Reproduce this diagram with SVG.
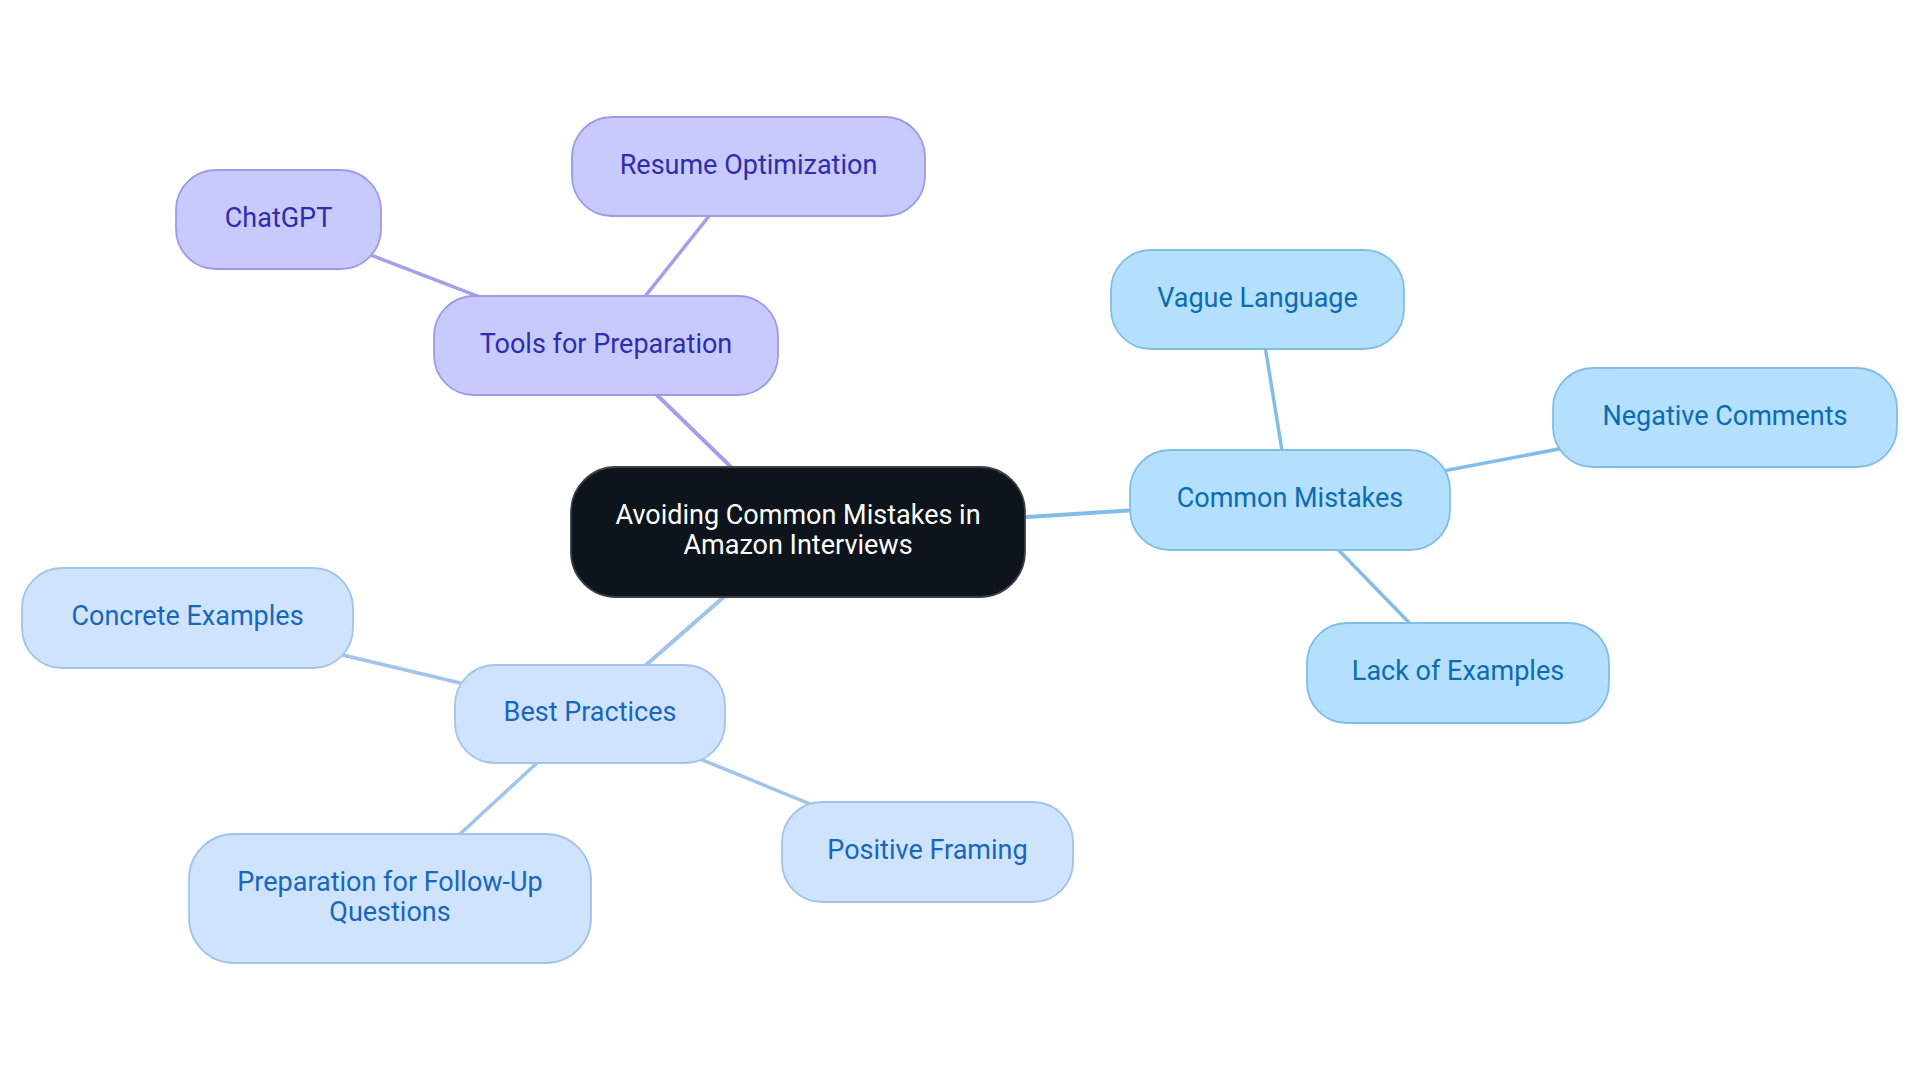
<svg xmlns="http://www.w3.org/2000/svg" width="1920" height="1083" viewBox="0 0 1920 1083">
<style>
text{font-family:Roboto,"Liberation Sans",sans-serif;font-size:27px;text-anchor:middle}
.n{stroke-width:1.8}
.p rect{fill:#C8CAFD;stroke:#9B9BE6}
.p text{fill:#2E2DAE}
.b rect{fill:#B4DFFD;stroke:#80BEE8}
.b text{fill:#0B6BB3}
.l rect{fill:#CFE4FC;stroke:#A0C4EC}
.l text{fill:#1766BF}
.c rect{fill:#0D141B;stroke:#3B4046}
.c text{fill:#FFFFFF}
.e line{stroke-linecap:round}
.ep{stroke:#A1A1E8}
.eb{stroke:#80BEE8}
.el{stroke:#A0C4EC}
.d1{stroke-width:4}
.d2{stroke-width:3.5}
</style>
<rect width="1920" height="1083" fill="#FFFFFF"/>
<g id="connectors" class="e">
<line class="ep d1" x1="798" y1="532" x2="606" y2="345.5"/>
<line class="ep d2" x1="606" y1="345.5" x2="278.5" y2="219.5"/>
<line class="ep d2" x1="606" y1="345.5" x2="748.5" y2="166.5"/>
<line class="eb d1" x1="798" y1="532" x2="1290" y2="500"/>
<line class="eb d2" x1="1290" y1="500" x2="1257.5" y2="299.5"/>
<line class="eb d2" x1="1290" y1="500" x2="1725" y2="417.5"/>
<line class="eb d2" x1="1290" y1="500" x2="1458" y2="673"/>
<line class="el d1" x1="798" y1="532" x2="590" y2="714"/>
<line class="el d2" x1="590" y1="714" x2="187.5" y2="618"/>
<line class="el d2" x1="590" y1="714" x2="390" y2="898.5"/>
<line class="el d2" x1="590" y1="714" x2="927.5" y2="852"/>
</g>
<g id="node-root" class="n c">
<rect x="571" y="467" width="454" height="130" rx="45"/>
<text x="798" y="524">Avoiding Common Mistakes in</text>
<text x="798" y="553.5">Amazon Interviews</text>
</g>
<g id="node-tools" class="n p">
<rect x="434" y="296" width="344" height="99" rx="40"/>
<text x="606" y="352.5">Tools for Preparation</text>
</g>
<g id="node-chatgpt" class="n p">
<rect x="176" y="170" width="205" height="99" rx="40"/>
<text x="278.5" y="226.5">ChatGPT</text>
</g>
<g id="node-resume" class="n p">
<rect x="572" y="117" width="353" height="99" rx="40"/>
<text x="748.5" y="173.5">Resume Optimization</text>
</g>
<g id="node-common" class="n b">
<rect x="1130" y="450" width="320" height="100" rx="40"/>
<text x="1290" y="507">Common Mistakes</text>
</g>
<g id="node-vague" class="n b">
<rect x="1111" y="250" width="293" height="99" rx="40"/>
<text x="1257.5" y="306.5">Vague Language</text>
</g>
<g id="node-negative" class="n b">
<rect x="1553" y="368" width="344" height="99" rx="40"/>
<text x="1725" y="424.5">Negative Comments</text>
</g>
<g id="node-lack" class="n b">
<rect x="1307" y="623" width="302" height="100" rx="40"/>
<text x="1458" y="680">Lack of Examples</text>
</g>
<g id="node-best" class="n l">
<rect x="455" y="665" width="270" height="98" rx="40"/>
<text x="590" y="721">Best Practices</text>
</g>
<g id="node-concrete" class="n l">
<rect x="22" y="568" width="331" height="100" rx="40"/>
<text x="187.5" y="625">Concrete Examples</text>
</g>
<g id="node-prep" class="n l">
<rect x="189" y="834" width="402" height="129" rx="45"/>
<text x="390" y="890.5">Preparation for Follow-Up</text>
<text x="390" y="921">Questions</text>
</g>
<g id="node-positive" class="n l">
<rect x="782" y="802" width="291" height="100" rx="40"/>
<text x="927.5" y="859">Positive Framing</text>
</g>
</svg>
